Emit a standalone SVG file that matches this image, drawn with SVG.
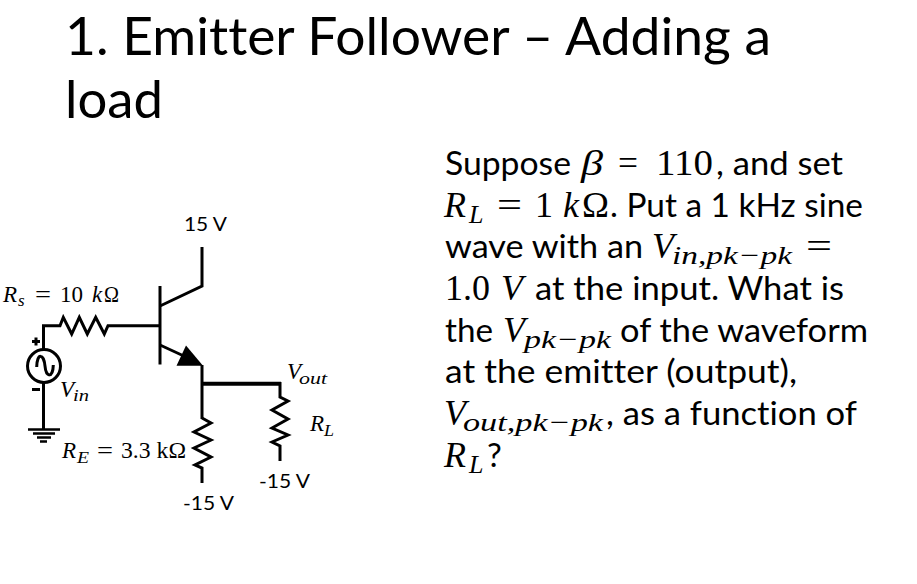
<svg xmlns="http://www.w3.org/2000/svg" width="917" height="584" viewBox="0 0 917 584">
<style>
.w{fill:none;stroke:#000;stroke-width:3;stroke-linejoin:miter}
.t{font-family:"Lato","Open Sans",sans-serif;fill:#000;font-variant-ligatures:none}
.m{font-family:"Liberation Serif",serif;fill:#000}
.i{font-style:italic}
.title{font-size:52px}
.body{font-size:33px}
.mb{font-size:36px}
.sb{font-size:26px}
.lab{font-size:20px}
.ml{font-size:23px}
.sl{font-size:17px}
</style>
<rect width="917" height="584" fill="#fff"/>
<g id="title">
<text class="t title" x="65" y="55" textLength="706" lengthAdjust="spacingAndGlyphs">1. Emitter Follower – Adding a</text>
<text class="t title" x="65" y="118" textLength="98" lengthAdjust="spacingAndGlyphs">load</text>
</g>
<g id="connectors">
<polyline class="w" points="43.5,350 43.5,325.7 60,325.7 63.3,317.3 71.7,334 79.3,317.3 87.3,334 95.7,317.3 104.3,334 108,325.7 160,325.7"/>
<line class="w" x1="43.5" y1="382" x2="43.5" y2="430"/>
<line class="w" x1="202" y1="365" x2="202" y2="419"/>
<polyline class="w" points="202,418 211,423 194,432 211,440 194,448 211,457 195,465 202,468 202,483"/>
<line x1="202" y1="383.7" x2="281" y2="383.7" stroke="#000" stroke-width="4"/>
<polyline class="w" points="280,382 280,397 288,401 272,410 288,419 272,428 288,435 272,442 280,446 280,461"/>
</g>
<g id="transistor">
<line class="w" x1="160" y1="286" x2="160" y2="364.5"/>
<polyline class="w" points="160,306 202,286 202,247"/>
<line class="w" x1="160" y1="345" x2="186" y2="357"/>
<polygon points="186,345.5 176.5,365.7 203,365.7" fill="#000"/>
</g>
<g id="source">
<circle class="w" cx="44" cy="366" r="16.5"/>
<path class="w" d="M36.7,367 C37,352 44,354 45,366 C46,378 53,378 53.3,365"/>
<path d="M32,341.5h8M36,337.5v8M32,389.5h8" stroke="#000" stroke-width="3" fill="none"/>
</g>
<g id="ground">
<path d="M28,429.5h32M33,433.5h22M37,437.5h14M40,441.5h7" stroke="#000" stroke-width="2.5" fill="none"/>
</g>
<g id="labels">
<text class="t lab" x="184" y="231" textLength="43" lengthAdjust="spacingAndGlyphs">15 V</text>
<text class="t lab" x="183" y="510" textLength="51" lengthAdjust="spacingAndGlyphs">-15 V</text>
<text class="t lab" x="259" y="488" textLength="51" lengthAdjust="spacingAndGlyphs">-15 V</text>
<text class="m ml i" x="3" y="301.5">R</text><text class="m sl i" x="18" y="306">s</text>
<text class="m ml" x="35" y="301.5" textLength="16" lengthAdjust="spacingAndGlyphs">=</text>
<text class="m ml" x="60" y="301.5" textLength="23" lengthAdjust="spacingAndGlyphs">10</text>
<text class="m ml i" x="92" y="301.5">k</text><text class="m ml" x="104" y="301.5" textLength="15" lengthAdjust="spacingAndGlyphs">Ω</text>
<text class="m ml i" x="60" y="396.5">V</text><text class="m sl i" x="73" y="401" textLength="16" lengthAdjust="spacingAndGlyphs">in</text>
<text class="m ml i" x="62" y="458">R</text><text class="m sl i" x="77" y="462.5" textLength="12" lengthAdjust="spacingAndGlyphs">E</text>
<text class="m ml" x="97" y="458" textLength="16" lengthAdjust="spacingAndGlyphs">=</text>
<text class="m ml" x="121" y="458" textLength="65" lengthAdjust="spacingAndGlyphs">3.3 kΩ</text>
<text class="m ml i" x="287" y="379">V</text><text class="m sl i" x="299" y="383.5" textLength="28" lengthAdjust="spacingAndGlyphs">out</text>
<text class="m ml i" x="310" y="431">R</text><text class="m sl i" x="324" y="436" textLength="10" lengthAdjust="spacingAndGlyphs">L</text>
</g>
<g id="question">
<text class="t body" x="445" y="175" textLength="126" lengthAdjust="spacingAndGlyphs">Suppose</text>
<text class="m mb i" x="581" y="175" textLength="22" lengthAdjust="spacingAndGlyphs">β</text>
<text class="m mb" x="618" y="175" textLength="20" lengthAdjust="spacingAndGlyphs">=</text>
<text class="m mb" x="656" y="175" textLength="57" lengthAdjust="spacingAndGlyphs">110</text>
<text class="t body" x="716" y="175" textLength="127" lengthAdjust="spacingAndGlyphs">, and set</text>
<text class="m mb i" x="444" y="217">R</text><text class="m sb i" x="469" y="223">L</text>
<text class="m mb" x="497" y="217" textLength="25" lengthAdjust="spacingAndGlyphs">=</text>
<text class="m mb" x="535" y="217">1</text>
<text class="m mb i" x="563" y="217">k</text><text class="m mb" x="582" y="217" textLength="27" lengthAdjust="spacingAndGlyphs">Ω</text>
<text class="t body" x="610" y="217" textLength="253" lengthAdjust="spacingAndGlyphs">. Put a 1 kHz sine</text>
<text class="t body" x="445" y="258" textLength="198" lengthAdjust="spacingAndGlyphs">wave with an</text>
<text class="m mb i" x="652" y="258">V</text><text class="m sb i" x="672" y="264" textLength="120" lengthAdjust="spacingAndGlyphs">in,pk−pk</text>
<text class="m mb" x="806" y="258" textLength="26" lengthAdjust="spacingAndGlyphs">=</text>
<text class="m mb" x="445" y="300" textLength="45" lengthAdjust="spacingAndGlyphs">1.0</text>
<text class="m mb i" x="501" y="300">V</text>
<text class="t body" x="535" y="300" textLength="309" lengthAdjust="spacingAndGlyphs">at the input. What is</text>
<text class="t body" x="445" y="342" textLength="48" lengthAdjust="spacingAndGlyphs">the</text>
<text class="m mb i" x="503" y="342">V</text><text class="m sb i" x="524" y="348" textLength="87" lengthAdjust="spacingAndGlyphs">pk−pk</text>
<text class="t body" x="620" y="342" textLength="248" lengthAdjust="spacingAndGlyphs">of the waveform</text>
<text class="t body" x="445" y="383" textLength="352" lengthAdjust="spacingAndGlyphs">at the emitter (output),</text>
<text class="m mb i" x="444" y="425">V</text><text class="m sb i" x="463" y="431" textLength="140" lengthAdjust="spacingAndGlyphs">out,pk−pk</text>
<text class="t body" x="606" y="425" textLength="251" lengthAdjust="spacingAndGlyphs">, as a function of</text>
<text class="m mb i" x="444" y="467">R</text><text class="m sb i" x="469" y="473">L</text>
<text class="t body" x="487" y="467">?</text>
</g>
</svg>
